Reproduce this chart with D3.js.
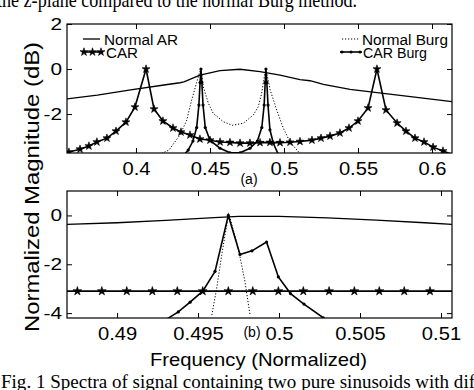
<!DOCTYPE html>
<html><head><meta charset="utf-8">
<script src="https://cdn.jsdelivr.net/npm/d3@7"></script>
<style>
body{margin:0;background:#fff}
svg{display:block}
text{font-family:"Liberation Sans",Arial,sans-serif;fill:#000}
text.serif{font-family:"Liberation Serif","Times New Roman",serif}
</style>
</head><body>
<svg id="c" width="474" height="390"></svg>
<script>
// ---------- tick values ----------
const topXTicks = [0.4, 0.45, 0.5, 0.55, 0.6];
const topXLabels = ["0.4", "0.45", "0.5", "0.55", "0.6"];
const topYTicks = [2, 0, -2];
const topYLabels = ["2", "0", "-2"];
const botXTicks = [0.49, 0.495, 0.5, 0.505, 0.51];
const botXLabels = ["0.49", "0.495", "0.5", "0.505", "0.51"];
const botYTicks = [0, -2, -4];
const botYLabels = ["0", "-2", "-4"];
const seriesNames = ["Normal AR", "CAR", "Normal Burg", "CAR Burg"];

// ---------- panel (a) data ----------
const aNormalARf  = [0.3534, 0.3739, 0.3964, 0.4189, 0.4297, 0.4324, 0.4432, 0.4568, 0.4703, 0.4838, 0.4973, 0.5108, 0.5176, 0.5266, 0.5446, 0.5671, 0.5897, 0.6135];
const aNormalARdb = [-1.33, -1.16, -0.93, -0.71, -0.61, -0.57, -0.27, -0.07, -0.01, -0.12, -0.27, -0.47, -0.52, -0.68, -0.90, -1.08, -1.26, -1.45];

const aCARf  = [0.3547, 0.3622, 0.3682, 0.3736, 0.3804, 0.3865, 0.3932, 0.3993, 0.4068, 0.4122, 0.4182, 0.4250, 0.4304, 0.4365, 0.4432, 0.4500, 0.4568, 0.4635, 0.4703, 0.4770, 0.4838, 0.4905, 0.4973, 0.5041, 0.5108, 0.5189, 0.5250, 0.5311, 0.5378, 0.5439, 0.5500, 0.5568, 0.5628, 0.5689, 0.5764, 0.5824, 0.5885, 0.5946, 0.6007, 0.6074, 0.6200];
const aCARdb = [-3.69, -3.56, -3.42, -3.24, -3.07, -2.76, -2.36, -1.69, 0.00, -1.78, -2.31, -2.62, -2.80, -2.93, -3.11, -3.16, -3.24, -3.26, -3.29, -3.29, -3.27, -3.26, -3.27, -3.25, -3.22, -3.16, -3.07, -2.98, -2.84, -2.62, -2.31, -1.73, 0.00, -1.82, -2.40, -2.76, -3.07, -3.24, -3.47, -3.64, -3.95];

const aNormalBurgf  = [0.4155, 0.4223, 0.4297, 0.4343, 0.4376, 0.4410, 0.4430, 0.4439, 0.4455, 0.4489, 0.4522, 0.4590, 0.4650, 0.4725, 0.4793, 0.4826, 0.4849, 0.4868, 0.4878, 0.4892, 0.4905, 0.4951, 0.4995, 0.5041, 0.5115];
const aNormalBurgdb = [-3.80, -3.60, -2.93, -2.27, -1.38, -0.60, -0.15, 0.00, -0.79, -1.52, -1.97, -2.34, -2.50, -2.41, -2.04, -1.68, -1.08, -0.30, 0.00, -0.45, -0.90, -1.82, -2.62, -3.25, -3.80];

const aCARBurgf  = [0.4300, 0.4353, 0.4385, 0.4410, 0.4425, 0.4433, 0.4439, 0.4445, 0.4453, 0.4468, 0.4500, 0.4568, 0.4635, 0.4703, 0.4770, 0.4820, 0.4850, 0.4866, 0.4873, 0.4878, 0.4884, 0.4892, 0.4905, 0.4928, 0.4962];
const aCARBurgdb = [-4.00, -3.60, -3.20, -2.60, -1.60, -0.60, 0.00, -0.60, -1.60, -2.60, -3.16, -3.52, -3.72, -3.72, -3.52, -3.20, -2.60, -1.60, -0.60, 0.00, -0.60, -1.60, -2.70, -3.30, -3.80];

// ---------- panel (b) data ----------
const bNormalARf  = [0.4869, 0.4900, 0.4930, 0.4960, 0.4975, 0.5000, 0.5030, 0.5060, 0.5090, 0.5107];
const bNormalARdb = [-0.37, -0.30, -0.20, -0.09, -0.04, -0.04, -0.10, -0.19, -0.30, -0.37];

const bCARf  = [0.4855, 0.48755, 0.48906, 0.49060, 0.49218, 0.49372, 0.49529, 0.49687, 0.49838, 0.49996, 0.50150, 0.50309, 0.50465, 0.50619, 0.50773, 0.50932, 0.5120];
const bCARdb = [-3.10, -3.10, -3.10, -3.10, -3.10, -3.10, -3.10, -3.10, -3.10, -3.10, -3.10, -3.10, -3.10, -3.10, -3.10, -3.10, -3.10];

const bNormalBurgf  = [0.49585, 0.49615, 0.49646, 0.49687, 0.49698, 0.49749, 0.49790, 0.49821];
const bNormalBurgdb = [-4.08, -2.99, -1.63, 0.00, -0.12, -1.36, -2.72, -4.08];

const bCARBurgf  = [0.49296, 0.49378, 0.49451, 0.49529, 0.49605, 0.49687, 0.49759, 0.49833, 0.49923, 0.49996, 0.50071, 0.50154, 0.50273, 0.50350];
const bCARBurgdb = [-4.29, -3.95, -3.55, -3.10, -2.29, 0.00, -1.60, -1.45, -1.09, -2.52, -3.20, -3.63, -4.19, -4.50];

// ---------- drawing ----------
const svg = d3.select("#c");
const L = 67, R = 452;
const zip = (f, v) => f.map((d, i) => [d, v[i]]);

const panels = [
  {id: "a", top: 24, bottom: 153, xd: [0.3534, 0.6135], yd: [-3.73, 2],
   xt: topXTicks, xl: topXLabels, yt: topYTicks, yl: topYLabels,
   ar: zip(aNormalARf, aNormalARdb), car: zip(aCARf, aCARdb),
   nb: zip(aNormalBurgf, aNormalBurgdb), cb: zip(aCARBurgf, aCARBurgdb), starSize: 20},
  {id: "b", top: 191, bottom: 318, xd: [0.48691, 0.51068], yd: [-4.2, 1],
   xt: botXTicks, xl: botXLabels, yt: botYTicks, yl: botYLabels,
   ar: zip(bNormalARf, bNormalARdb), car: zip(bCARf, bCARdb),
   nb: zip(bNormalBurgf, bNormalBurgdb), cb: zip(bCARBurgf, bCARBurgdb), starSize: 24}
];

const defs = svg.append("defs");

function fitText(sel, factor) {
  sel.each(function() {
    const n = this.getComputedTextLength();
    d3.select(this).attr("textLength", n * factor).attr("lengthAdjust", "spacingAndGlyphs");
  });
}

panels.forEach(p => {
  const x = d3.scaleLinear().domain(p.xd).range([L, R]);
  const y = d3.scaleLinear().domain(p.yd).range([p.bottom, p.top]);
  const g = svg.append("g");
  defs.append("clipPath").attr("id", "clip" + p.id)
    .append("rect").attr("x", L).attr("y", p.top).attr("width", R - L).attr("height", p.bottom - p.top);

  const plot = g.append("g").attr("clip-path", `url(#clip${p.id})`);
  const line = d3.line().x(d => x(d[0])).y(d => y(d[1]));

  // Normal Burg dotted
  plot.append("path").attr("d", line(p.nb)).attr("fill", "none")
    .attr("stroke", "#000").attr("stroke-width", 1).attr("stroke-dasharray", "1.2,1.8");
  // Normal AR solid
  plot.append("path").attr("d", line(p.ar)).attr("fill", "none")
    .attr("stroke", "#000").attr("stroke-width", 1.3);
  // CAR Burg solid with small dots
  plot.append("path").attr("d", line(p.cb)).attr("fill", "none")
    .attr("stroke", "#000").attr("stroke-width", 1.6);
  plot.selectAll(".cbd").data(p.cb).enter().append("circle")
    .attr("cx", d => x(d[0])).attr("cy", d => y(d[1])).attr("r", 1.6).attr("fill", "#000");
  // CAR with stars
  plot.append("path").attr("d", line(p.car)).attr("fill", "none")
    .attr("stroke", "#000").attr("stroke-width", 1.6);
  plot.selectAll(".st").data(p.car).enter().append("path")
    .attr("d", d3.symbol().type(d3.symbolStar).size(p.starSize))
    .attr("transform", d => `translate(${x(d[0])},${y(d[1])})`)
    .attr("fill", "#000").attr("stroke", "#000").attr("stroke-width", 0.6);

  // axes (MATLAB box with inward ticks)
  const ax = svg.append("g");
  const xb = ax.append("g").attr("transform", `translate(0,${p.bottom})`)
    .call(d3.axisBottom(x).tickValues(p.xt).tickFormat((d, i) => p.xl[i]).tickSize(-5).tickPadding(9));
  ax.append("g").attr("transform", `translate(0,${p.top})`)
    .call(d3.axisTop(x).tickValues(p.xt).tickFormat("").tickSize(-5));
  const yb = ax.append("g").attr("transform", `translate(${L},0)`)
    .call(d3.axisLeft(y).tickValues(p.yt).tickFormat((d, i) => p.yl[i]).tickSize(-5).tickPadding(5));
  ax.append("g").attr("transform", `translate(${R},0)`)
    .call(d3.axisRight(y).tickValues(p.yt).tickFormat("").tickSize(-5));
  ax.selectAll(".domain").remove();
  ax.selectAll(".tick line").attr("stroke", "#000").attr("stroke-width", 1);
  xb.selectAll("text").attr("font-size", 18).style("font-family", "'Liberation Sans', Arial, sans-serif");
  fitText(xb.selectAll("text"), 1.12);
  yb.selectAll("text").attr("font-size", 16).style("font-family", "'Liberation Sans', Arial, sans-serif");
  fitText(yb.selectAll("text"), 1.3);
  ax.append("rect").attr("x", L).attr("y", p.top).attr("width", R - L).attr("height", p.bottom - p.top)
    .attr("fill", "none").attr("stroke", "#000").attr("stroke-width", 1.2);
});

// ---------- legend (panel a) ----------
const lg = svg.append("g");
const lfs = 15.5;
lg.append("line").attr("x1", 83).attr("x2", 100).attr("y1", 39).attr("y2", 39).attr("stroke", "#000").attr("stroke-width", 1.3);
lg.append("text").attr("x", 104).attr("y", 44.5).attr("font-size", lfs).attr("textLength", 74).attr("lengthAdjust", "spacingAndGlyphs").text(seriesNames[0]);
lg.append("line").attr("x1", 82).attr("x2", 103).attr("y1", 52).attr("y2", 52).attr("stroke", "#000").attr("stroke-width", 1.6);
lg.selectAll(".ls").data([84, 92.5, 101]).enter().append("path")
  .attr("d", d3.symbol().type(d3.symbolStar).size(20))
  .attr("transform", d => `translate(${d},52)`).attr("fill", "#000").attr("stroke", "#000").attr("stroke-width", 0.6);
lg.append("text").attr("x", 106).attr("y", 57.5).attr("font-size", lfs).attr("textLength", 32).attr("lengthAdjust", "spacingAndGlyphs").text(seriesNames[1]);
lg.append("line").attr("x1", 342).attr("x2", 360).attr("y1", 39).attr("y2", 39).attr("stroke", "#000").attr("stroke-width", 1).attr("stroke-dasharray", "1.2,1.8");
lg.append("text").attr("x", 362).attr("y", 44.5).attr("font-size", lfs).attr("textLength", 86).attr("lengthAdjust", "spacingAndGlyphs").text(seriesNames[2]);
lg.append("line").attr("x1", 340).attr("x2", 362).attr("y1", 52).attr("y2", 52).attr("stroke", "#000").attr("stroke-width", 1.6);
lg.selectAll(".ld").data([342, 351, 360]).enter().append("circle").attr("cx", d => d).attr("cy", 52).attr("r", 1.5).attr("fill", "#000");
lg.append("text").attr("x", 363).attr("y", 57.5).attr("font-size", lfs).attr("textLength", 64).attr("lengthAdjust", "spacingAndGlyphs").text(seriesNames[3]);

// ---------- labels ----------
svg.append("text").attr("x", 249).attr("y", 184).attr("text-anchor", "middle").attr("font-size", 14).text("(a)");
svg.append("text").attr("x", 252).attr("y", 337).attr("text-anchor", "middle").attr("font-size", 14).text("(b)");
svg.append("text").attr("x", 150).attr("y", 366).attr("font-size", 19).attr("textLength", 217).attr("lengthAdjust", "spacingAndGlyphs").text("Frequency (Normalized)");
svg.append("text").attr("transform", "translate(39,187) rotate(-90)").attr("text-anchor", "middle")
  .attr("font-size", 20).attr("textLength", 290).attr("lengthAdjust", "spacingAndGlyphs").text("Normalized Magnitude (dB)");

// caption fragments (serif, cropped at the picture edges as in the source)
svg.append("text").attr("class", "serif").attr("x", -3).attr("y", 7)
  .attr("font-size", 21).attr("textLength", 360).attr("lengthAdjust", "spacingAndGlyphs").text("the z-plane compared to the normal Burg method.");
svg.append("text").attr("class", "serif").attr("x", 1).attr("y", 388)
  .attr("font-size", 19).attr("textLength", 480).attr("lengthAdjust", "spacingAndGlyphs").text("Fig. 1 Spectra of signal containing two pure sinusoids with diff");
</script>
</body></html>
